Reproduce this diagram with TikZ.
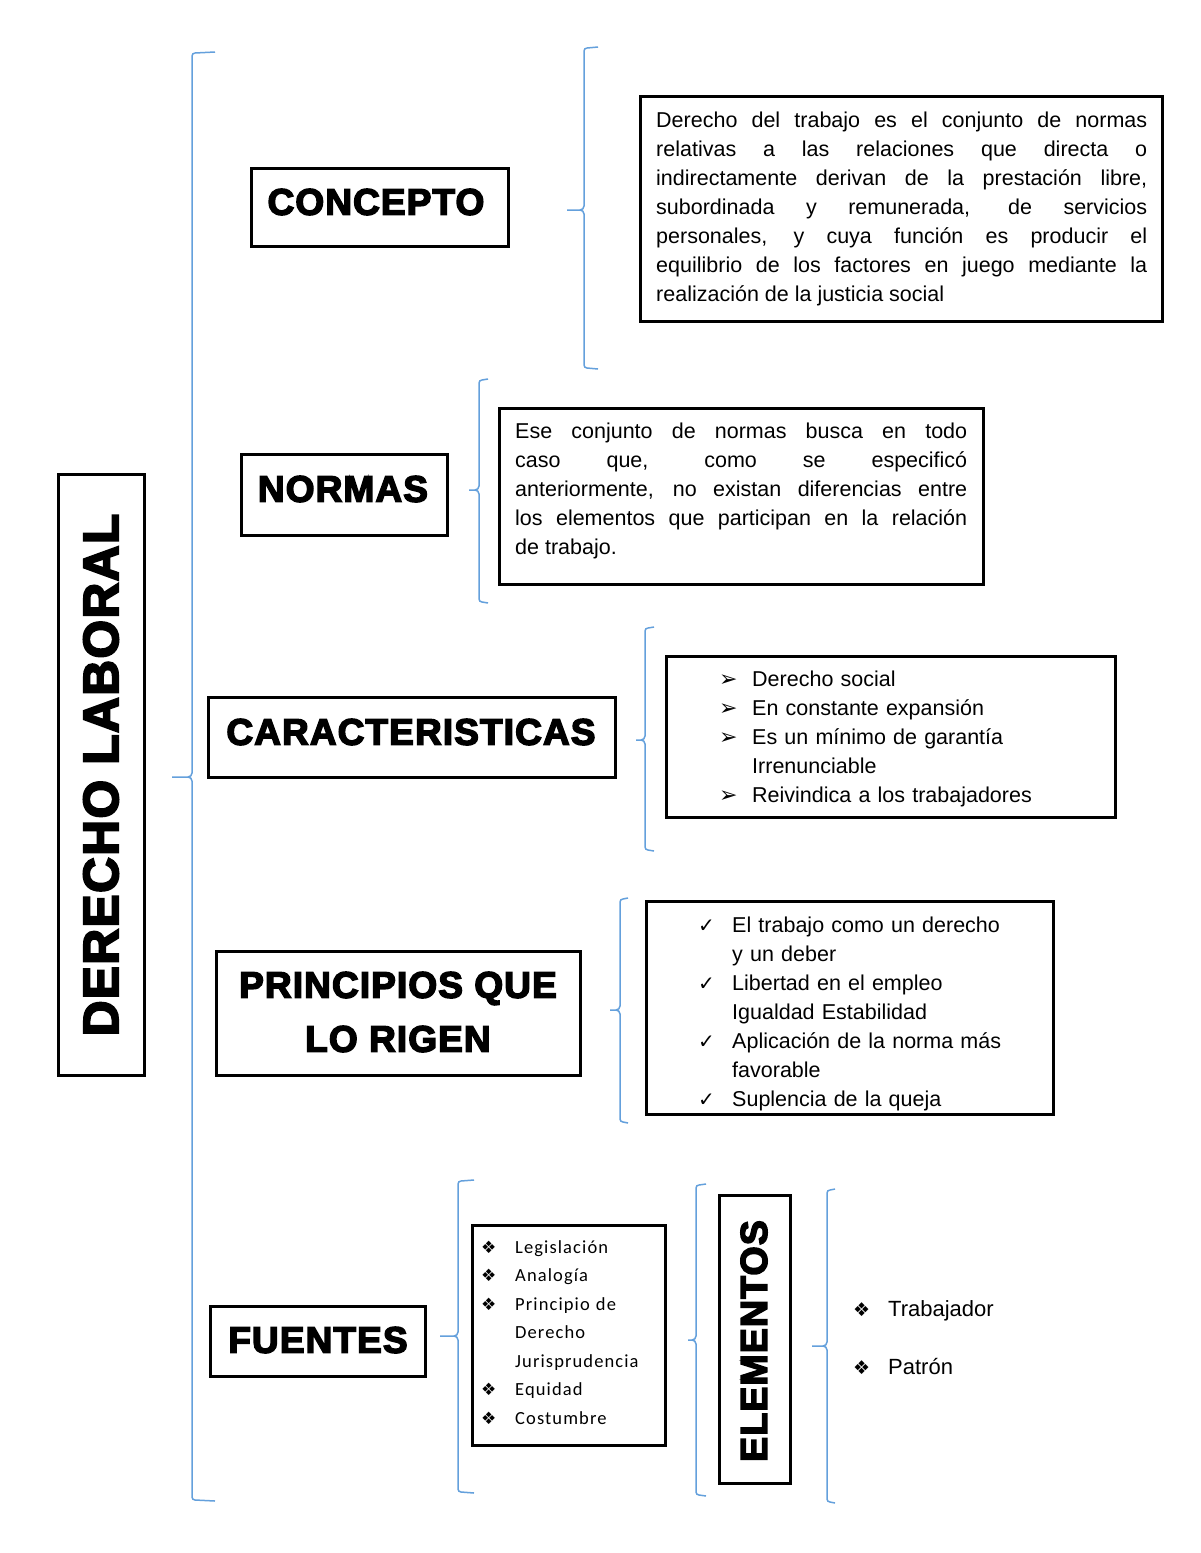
\documentclass[tikz,border=0pt]{standalone}
\usepackage{fontspec}
\setmainfont{Liberation Sans}
\newfontfamily\heavyfont{Liberation Sans Bold}[FakeBold=4,LetterSpace=3]
\newfontfamily\symfont{DejaVu Sans}
\newfontfamily\califont{Carlito}[LetterSpace=6]
\definecolor{bracecol}{RGB}{100,160,220}
\newcommand\curly[6]{%
  \draw[bracestyle] (#1+#5,#2-1) -- (#1+3,#2) to[out=180,in=90] (#1,#2+3) -- (#1,#3-4) to[out=-90,in=0] (#1-4,#3) -- (#1-#6,#3);
  \draw[bracestyle] (#1-4,#3) to[out=0,in=90] (#1,#3+4) -- (#1,#4-3) to[out=-90,in=180] (#1+3,#4) -- (#1+#5,#4+1);}
\newcommand\arw{\makebox[33pt][l]{\symfont\fontsize{22}{22}\selectfont ➢}}
\newcommand\chk{\makebox[34pt][l]{\symfont\fontsize{20}{20}\selectfont ✓}}
\newcommand\dia{\makebox[34pt][l]{\symfont\fontsize{17}{17}\selectfont ❖}}
\newcommand\diab{\makebox[35pt][l]{\symfont\fontsize{19}{19}\selectfont ❖}}
\begin{document}
\begin{tikzpicture}[x=1pt,y=-1pt,
  bracestyle/.style={draw=bracecol,line width=1.5pt},
  headbox/.style={draw,line width=3pt,inner sep=0pt,minimum width=10pt},
  headtext/.style={inner sep=0pt,align=center,font=\heavyfont\fontsize{37}{54}\selectfont},
  textbox/.style={draw,line width=3pt,inner sep=0pt},
  bodytext/.style={inner sep=0pt,anchor=base west,font=\fontsize{21.5}{29}\selectfont},
  listtext/.style={inner sep=0pt,anchor=base west,text width=420pt,align=left,font=\fontsize{21.5}{29}\selectfont}]
\useasboundingbox[fill=white] (0,0) rectangle (1200,1553);

% main title
\node[headbox,minimum width=86pt,minimum height=601pt] (dl) at (101,774.5) {};
\node[headtext,rotate=90,font=\heavyfont\fontsize{49.5}{49.5}\selectfont] (dltext) at (101,775) {DERECHO LABORAL};

% headings
\node[headbox,minimum width=257pt,minimum height=78pt] (concepto) at (379.5,207) {};
\node[headtext] (conceptotext) at (376,202) {CONCEPTO};
\node[headbox,minimum width=206pt,minimum height=81pt] (normas) at (344,494.5) {};
\node[headtext] (normastext) at (343,489) {NORMAS};
\node[headbox,minimum width=407pt,minimum height=80pt] (caract) at (411.5,737) {};
\node[headtext] (caracttext) at (411,732) {CARACTERISTICAS};
\node[headbox,minimum width=364pt,minimum height=124pt] (princ) at (398,1013) {};
\node[headtext] (princtext) at (398,1012) {PRINCIPIOS QUE\\LO RIGEN};
\node[headbox,minimum width=215pt,minimum height=70pt] (fuentes) at (317.5,1341) {};
\node[headtext] (fuentestext) at (318,1340) {FUENTES};
\node[headbox,minimum width=71pt,minimum height=288pt] (elem) at (754.5,1339) {};
\node[headtext,rotate=90,font=\heavyfont\fontsize{37.5}{37.5}\selectfont] (elemtext) at (754,1341) {ELEMENTOS};

% text boxes
\node[textbox,minimum width=522pt,minimum height=225pt] (cbox) at (901,208.5) {};
\node[bodytext,text width=491pt,align=justify] (ctext) at (656,127) {Derecho del trabajo es el conjunto de normas\linebreak relativas a las relaciones que directa o\linebreak indirectamente derivan de la prestación libre,\linebreak subordinada y remunerada, de servicios\linebreak personales, y cuya función es producir el\linebreak equilibrio de los factores en juego mediante la\linebreak realización de la justicia social};

\node[textbox,minimum width=484pt,minimum height=176pt] (nbox) at (741,496) {};
\node[bodytext,text width=452pt,align=justify] (ntext) at (515,438) {Ese conjunto de normas busca en todo\linebreak caso que, como se especificó\linebreak anteriormente, no existan diferencias entre\linebreak los elementos que participan en la relación\linebreak de trabajo.};

\node[textbox,minimum width=449pt,minimum height=161pt] (cabox) at (890.5,736.5) {};
\node[listtext] (catext) at (719,686) {\arw Derecho social\\ \arw En constante expansión\\ \arw Es un mínimo de garantía\\ \hspace*{33pt}Irrenunciable\\ \arw Reivindica a los trabajadores};

\node[textbox,minimum width=407pt,minimum height=213pt] (pbox) at (849.5,1007.5) {};
\node[listtext] (ptext) at (698,932) {\chk El trabajo como un derecho\\ \hspace*{34pt}y un deber\\ \chk Libertad en el empleo\\ \hspace*{34pt}Igualdad Estabilidad\\ \chk Aplicación de la norma más\\ \hspace*{34pt}favorable\\ \chk Suplencia de la queja};

\node[textbox,minimum width=193pt,minimum height=220pt] (fbox) at (568.5,1335) {};
\node[listtext,text width=180pt,font=\califont\fontsize{18.5}{28.5}\selectfont] (ftext) at (481,1253) {\dia Legislación\\ \dia Analogía\\ \dia Principio de\\ \hspace*{34pt}Derecho\\ \hspace*{34pt}Jurisprudencia\\ \dia Equidad\\ \dia Costumbre};

\node[listtext,text width=200pt,font=\fontsize{22}{58}\selectfont] (etext) at (853,1316) {\diab Trabajador\\ \diab Patrón};

% braces
\curly{192}{53}{777}{1500}{23}{20}
\curly{584}{48}{210}{368}{14}{17}
\curly{479}{380}{490}{602}{9}{10}
\curly{645}{628}{740}{850}{9}{9}
\curly{620}{899}{1010}{1122}{8}{10}
\curly{458}{1181}{1336}{1492}{16}{18}
\curly{696}{1185}{1340}{1495}{10}{8}
\curly{827}{1190}{1346}{1502}{8}{15}
\end{tikzpicture}
\end{document}
